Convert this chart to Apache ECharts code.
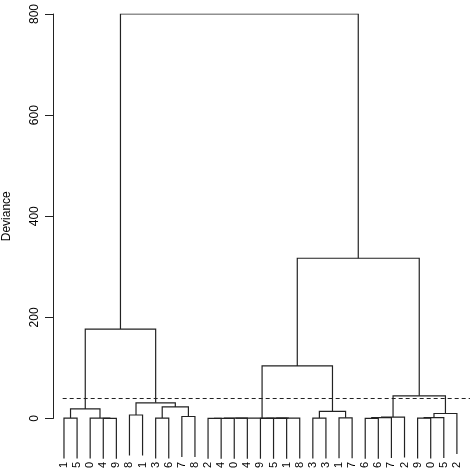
<!DOCTYPE html>
<html><head><meta charset="utf-8">
<script src="https://cdn.jsdelivr.net/npm/echarts@6/dist/echarts.min.js"></script>
<style>html,body{margin:0;padding:0;background:#fff}#c{width:473px;height:473px}</style>
</head><body><div id="c"></div>
<script>
const leafLabels = ['1','5','0','4','9','8','1','3','6','7','8','2','4','0','4','9','5','1','8','3','3','1','7','6','6','7','2','9','0','5','2'];
// R-style merge matrix: negative = leaf (1-based), positive = merge row (1-based)
const mergeLeft  = [-1,-4,-3,1,-6,-8,-10,6,5,4,-12,11,12,-16,14,15,13,-20,-22,18,17,-24,22,23,-28,25,26,24,21,10];
const mergeRight = [-2,-5,2,3,-7,-9,-11,7,8,9,-13,-14,-15,-17,-18,-19,16,-21,-23,19,20,-25,-26,-27,-29,-30,-31,27,28,29];
const mergeHeight= [1,0.5,1,19,7,1,4,23,31,177,0.3,0.5,0.7,0.3,0.5,0.8,1,1,1.5,14,104,0.5,2,3,0.8,2,10,45,317,800];
const cutHeight = 40;
const yTicks = [0,200,400,600,800];
const hang = 80;

const nodeX = [];
function pos(ref){ return ref < 0 ? {x: -ref-1, h: null} : {x: nodeX[ref-1], h: mergeHeight[ref-1]}; }
const segs = [];
for (let i=0;i<mergeLeft.length;i++){
  const a = pos(mergeLeft[i]), b = pos(mergeRight[i]), h = mergeHeight[i];
  const ya = a.h===null ? h-hang : a.h, yb = b.h===null ? h-hang : b.h;
  nodeX.push((a.x+b.x)/2);
  segs.push({coords:[[a.x,ya],[a.x,h],[b.x,h],[b.x,yb]]});
}
const font = 'Liberation Sans, Arial, sans-serif';
const chart = echarts.init(document.getElementById('c'));
chart.setOption({
  animation:false,
  grid:[{left:48,right:3,top:14,bottom:14},{left:48,width:10,top:14,bottom:54.5}],
  xAxis:[
    {gridIndex:0,type:'value',min:-1.22,max:31,axisLine:{show:false},splitLine:{show:false},axisTick:{show:false},
     axisLabel:{customValues:leafLabels.map((_,i)=>i),formatter:v=>leafLabels[Math.round(v)],rotate:90,margin:3,color:'#000',fontSize:11,fontFamily:font}},
    {gridIndex:1,type:'value',show:false}
  ],
  yAxis:[
    {gridIndex:0,type:'value',min:-hang,max:800,show:false},
    {gridIndex:1,type:'value',min:0,max:800,interval:200,
     axisLine:{show:true,lineStyle:{color:'#222'}},axisTick:{show:true,length:8,lineStyle:{color:'#222'}},splitLine:{show:false},
     axisLabel:{customValues:yTicks,rotate:90,margin:12,color:'#000',fontSize:12,fontFamily:font},
     name:'Deviance',nameLocation:'middle',nameGap:40,nameRotate:90,nameTextStyle:{color:'#000',fontSize:12,fontFamily:font}}
  ],
  series:[{
    type:'lines',coordinateSystem:'cartesian2d',xAxisIndex:0,yAxisIndex:0,polyline:true,
    lineStyle:{color:'#222',width:1.2,opacity:1},data:segs,
    markLine:{symbol:'none',silent:true,label:{show:false},lineStyle:{color:'#222',type:[4,3],width:1.2},
      data:[[{coord:[-0.1,cutHeight]},{coord:[31,cutHeight]}]]}
  }]
});
</script></body></html>
